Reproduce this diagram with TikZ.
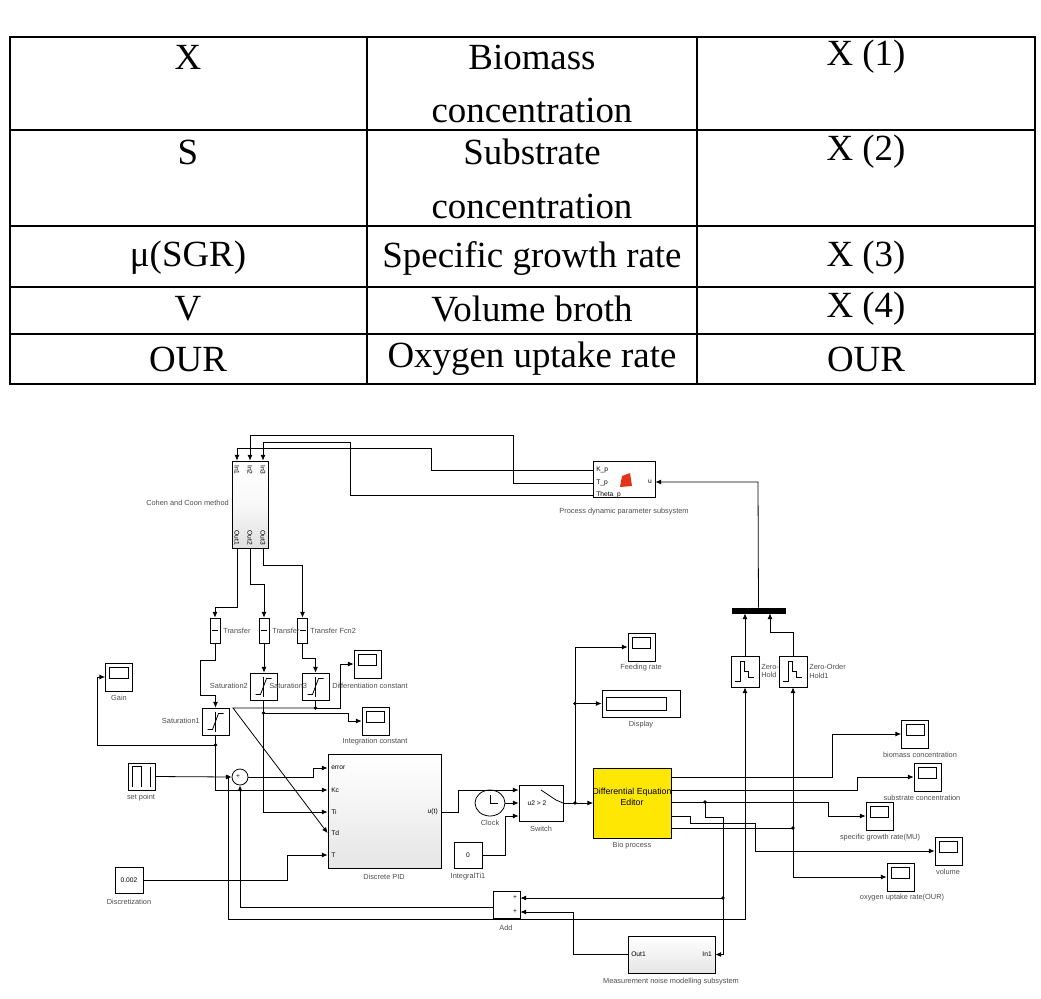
\documentclass[tikz,border=0pt]{standalone}
\usepackage{fontspec}
\setmainfont{Liberation Serif}
\newfontfamily\simfont{Liberation Sans}
\usetikzlibrary{arrows.meta,shapes.geometric}
\tikzset{
    cell/.style = {font=\fontsize{21}{25}\selectfont, inner sep=0pt},
    blk/.style 2 args = {draw, inner sep=0pt, minimum width=#1*0.02cm, minimum height=#2*0.02cm},
    scp/.style = {blk={27}{28}, path picture={\draw ([shift={(2.5pt,-2.5pt)}]path picture bounding box.north west) rectangle ([shift={(-2.5pt,7pt)}]path picture bounding box.south east);}},
    lbl/.style = {font=\simfont\fontsize{4.2}{5}\selectfont, inner sep=0.5pt, text=black!70},
    prt/.style = {font=\simfont\fontsize{3.8}{4.5}\selectfont, inner sep=0.5pt},
    sig/.style = {-{Latex[length=3.2pt,width=2.8pt]}},
    dot/.style = {circle, fill, inner sep=0pt, minimum size=2.2pt}
}
\begin{document}
\begin{tikzpicture}[x=0.02cm, y=-0.02cm, line width=0.45pt]
    \useasboundingbox (0,0) rectangle (1041,998);

    % table
    \draw[line width=1pt] (10,37) rectangle (1035,384);
    \foreach \y in {130,226,287,334}
        \draw[line width=1pt] (10,\y) -- (1035,\y);
    \foreach \x in {367,697}
        \draw[line width=1pt] (\x,37) -- (\x,384);
    \node[cell] (r1a) at (188,57) {X};
    \node[cell] (r1b) at (532,57) {Biomass};
    \node[cell] (r1c) at (532,110) {concentration};
    \node[cell] (r1d) at (866,57) {X (1)};
    \node[cell] (r2a) at (188,152) {S};
    \node[cell] (r2b) at (532,152) {Substrate};
    \node[cell] (r2c) at (532,206) {concentration};
    \node[cell] (r2d) at (866,152) {X (2)};
    \node[cell] (r3a) at (188,258) {μ(SGR)};
    \node[cell] (r3b) at (532,258) {Specific growth rate};
    \node[cell] (r3c) at (866,258) {X (3)};
    \node[cell] (r4a) at (188,309) {V};
    \node[cell] (r4b) at (532,309) {Volume broth};
    \node[cell] (r4c) at (866,309) {X (4)};
    \node[cell] (r5a) at (188,359) {OUR};
    \node[cell] (r5b) at (532,359) {Oxygen uptake rate};
    \node[cell] (r5c) at (866,359) {OUR};

    % blocks
    \node[blk={36}{87}, top color=white, bottom color=gray!25, middle color=gray!5] (coc) at (250,504.5) {};
    \node[lbl, anchor=east] at (230,503) {Cohen and Coon method};
    \foreach \x/\i in {237/1,250/2,263/3} {
        \node[prt, rotate=-90] at (\x,470) {In\i};
        \node[prt, rotate=-90] at (\x,538) {Out\i};
    }
    \node[blk={62}{36}] (pds) at (624,479) {};
    \node[prt, anchor=west] at (595,470) {K\_p};
    \node[prt, anchor=west] at (595,483) {T\_p};
    \node[prt, anchor=west] at (595,495) {Theta\_p};
    \node[prt, anchor=east] at (653,482) {u};
    \fill[red!60!brown] (622,476) -- (630,473) -- (632,486) -- (620,487) -- cycle;
    \node[lbl] at (624,512) {Process dynamic parameter subsystem};
    \node[blk={53}{5}, fill=black] (bus) at (758.5,610.5) {};

    \node[blk={28}{31}] (zoh) at (745,671.5) {};
    \node[blk={28}{31}] (zoh1) at (793,671.5) {};
    \foreach \n in {zoh,zoh1}
        \draw ([shift={(-10,10)}]\n.center) -- ++(5,0) -- ++(0,-20) -- ++(4,0) -- ++(0,10) -- ++(4,0) -- ++(0,6) -- ++(6,0);
    \node[lbl, anchor=west, align=left] at (760,671) {Zero-\\Hold};
    \node[lbl, anchor=west, align=left] at (808,671) {Zero-Order\\Hold1};

    \foreach \n/\x in {tf1/215,tf2/264,tf3/302.5} {
        \node[blk={10}{25}] (\n) at (\x,630.5) {};
        \draw ([shift={(-3,0)}]\n.center) -- ([shift={(3,0)}]\n.center);
    }
    \node[lbl, anchor=west] at (222,631) {Transfer};
    \node[lbl, anchor=west] at (271,631) {Transfer};
    \node[lbl, anchor=west] at (309,631) {Transfer Fcn2};

    \foreach \n/\x/\y in {sat2/263.5/686.5,sat3/315.5/686.5,sat1/215.5/721.5} {
        \node[blk={27}{27}] (\n) at (\x,\y) {};
        \draw ([shift={(-8,8)}]\n.center) -- ++(5,0) -- ++(6,-16) -- ++(5,0);
        \draw ([shift={(0,10)}]\n.center) -- ([shift={(0,-10)}]\n.center);
    }
    \node[lbl, anchor=east] at (249,686) {Saturation2};
    \node[lbl, anchor=west] at (268,686) {Saturation3};
    \node[lbl, anchor=west] at (331,686) {Differentiation constant};
    \node[lbl, anchor=east] at (201,721) {Saturation1};

    \node[scp] (gainsc) at (119,677) {};
    \node[lbl] at (119,698) {Gain};
    \node[scp] (diffsc) at (367.5,664) {};
    \node[scp] (intsc) at (375.5,721) {};
    \node[lbl] at (375,742) {Integration constant};

    \node[blk={113}{114}, top color=white, bottom color=gray!20] (pid) at (384.5,811.5) {};
    \foreach \t/\y in {error/768,Kc/790,Ti/812,Td/833,T/855}
        \node[prt, anchor=west] at (330,\y) {\t};
    \node[prt, anchor=east] at (439,812) {u(t)};
    \node[lbl] at (384,877) {Discrete PID};

    \node[blk={27}{27}] (setp) at (141.5,776.5) {};
    \draw ([shift={(-9,10)}]setp.center) -- ++(0,-20) -- ++(9,0) -- ++(0,20) ([shift={(9,-10)}]setp.center) -- ++(0,20);
    \node[lbl] at (141,798) {set point};
    \node[draw, circle, minimum size=16*0.02cm, inner sep=0pt] (sum) at (240,777) {};
    \node[prt] at (238,777) {+};
    \node[blk={28}{26}] (disc) at (129,880) {};
    \node[prt] at (129,880) {0.002};
    \node[lbl] at (129,902) {Discretization};

    \node[draw, ellipse, minimum width=30*0.02cm, minimum height=26*0.02cm, inner sep=0pt] (clock) at (490,803) {};
    \draw (clock.center) -- ++(0,-8) (clock.center) -- ++(8,0);
    \node[lbl] at (490,823) {Clock};
    \node[blk={28}{26}] (ti0) at (468,855) {};
    \node[prt] at (468,855) {0};
    \node[lbl] at (468,877) {IntegralTi1};
    \node[blk={44}{36}] (sw) at (541,803) {};
    \node[prt] at (537,803) {u2 > 2};
    \draw (541,790) -- (556,800) -- (563,803);
    \node[lbl] at (541,829) {Switch};

    \node[blk={78}{70}, fill=yellow!90!orange] (bio) at (632.5,803) {};
    \node[font=\simfont\fontsize{5}{6}\selectfont, align=center, inner sep=0pt] at (632,797) {Differential Equation\\Editor};
    \node[lbl] at (632,846) {Bio process};
    \node[scp] (feedsc) at (641.5,647) {};
    \node[lbl] at (641,668) {Feeding rate};
    \node[blk={78}{27}] (disp) at (641,703.5) {};
    \draw (606,697) rectangle (666,710);
    \node[lbl] at (641,725) {Display};

    \node[scp] (bmsc) at (915,734) {};
    \node[lbl] at (920,755) {biomass concentration};
    \node[scp] (subsc) at (927.5,777) {};
    \node[lbl] at (922,798) {substrate concentration};
    \node[scp] (sgrsc) at (879.5,816) {};
    \node[lbl] at (880,838) {specific growth rate(MU)};
    \node[scp] (volsc) at (948.5,851) {};
    \node[lbl] at (948,872) {volume};
    \node[scp] (oursc) at (900.5,877) {};
    \node[lbl] at (902,898) {oxygen uptake rate(OUR)};

    \node[blk={27}{27}] (add) at (506.5,905) {};
    \node[prt] at (515,898) {+};
    \node[prt] at (515,912) {+};
    \node[lbl] at (506,928) {Add};
    \node[blk={87}{37}, top color=white, bottom color=gray!20] (meas) at (671.5,954.5) {};
    \node[prt, anchor=west] at (630,954) {Out1};
    \node[prt, anchor=east] at (713,954) {In1};
    \node[lbl] at (671,982) {Measurement noise modelling subsystem};

    % connectors
    \draw[sig] (pds.west |- 0,470) -- (431,470) -- (431,448) -- (237,448) -- (coc.north -| 237,0);
    \draw[sig] (pds.west |- 0,483) -- (513,483) -- (513,435) -- (250,435) -- (coc.north);
    \draw[sig] (pds.west |- 0,495) -- (350,495) -- (350,442) -- (263,442) -- (coc.north -| 263,0);
    \draw[sig] (bus.north) -- (758,482) -- (pds.east |- 0,482);
    \draw[sig] (zoh.north) -- (bus.south -| zoh.north);
    \draw[sig] (zoh1.north) -- (793,632) -- (770,632) -- (bus.south -| 770,0);

    \draw[sig] (coc.south -| 237,0) -- (237,607) -- (215,607) -- (tf1.north);
    \draw[sig] (coc.south) -- (250,584) -- (264,584) -- (tf2.north);
    \draw[sig] (coc.south -| 263,0) -- (263,565) -- (302.5,565) -- (tf3.north);
    \draw[sig] (tf1.south) -- (215,660) -- (200,660) -- (200,695) -- (215.5,695) -- (sat1.north);
    \draw[sig] (tf2.south) -- (sat2.north -| tf2.south);
    \draw[sig] (tf3.south) -- (302.5,658) -- (315.5,658) -- (sat3.north);

    \draw[sig] (sat3.south) -- (315.5,708) -- (340,708) -- (340,664) -- (diffsc.west);
    \draw[sig] (315.5,708) -- (233,708) -- (pid.west |- 0,833);
    \draw[sig] (sat2.south) -- (263.5,713) -- (348,713) -- (348,721) -- (intsc.west);
    \draw[sig] (263.5,713) -- (263.5,812) -- (pid.west |- 0,812);
    \draw[sig] (sat1.south) -- (215.5,745) -- (215.5,790) -- (pid.west |- 0,790);
    \draw[sig] (215.5,745) -- (97,745) -- (97,677) -- (gainsc.west);
    \node[dot] (j1) at (315.5,708) {};
    \node[dot] (j2) at (263.5,713) {};
    \node[dot] (j3) at (215.5,745) {};

    \draw[sig] (setp.east) -- (sum.west);
    \draw[sig] (sum.east) -- (313,777) -- (313,768) -- (pid.west |- 0,768);
    \draw[sig] (add.west |- 0,907) -- (240,907) -- (sum.south);
    \draw[sig] (228,777) -- (228,919) -- (745,919) -- (zoh.south);
    \node[dot] (j4) at (228,777) {};
    \draw[sig] (disc.east) -- (287,880) -- (287,855) -- (pid.west |- 0,855);

    \draw[sig] (pid.east |- 0,812) -- (458,812) -- (458,790) -- (sw.west |- 0,790);
    \draw[sig] (clock.east) -- (sw.west);
    \draw[sig] (ti0.east) -- (505,855) -- (505,816) -- (sw.west |- 0,816);
    \draw[sig] (sw.east) -- (bio.west);
    \draw[sig] (575,803) -- (575,647) -- (feedsc.west);
    \draw[sig] (575,703.5) -- (disp.west);
    \node[dot] (j5) at (575,803) {};
    \node[dot] (j6) at (575,703.5) {};

    \draw[sig] (bio.east |- 0,777) -- (832,777) -- (832,734) -- (bmsc.west);
    \draw[sig] (bio.east |- 0,790) -- (857,790) -- (857,777) -- (subsc.west);
    \draw[sig] (bio.east |- 0,802) -- (828,802) -- (828,816) -- (sgrsc.west);
    \draw[sig] (bio.east |- 0,816) -- (690,816) -- (690,823) -- (755,823) -- (755,851) -- (volsc.west);
    \draw[sig] (bio.east |- 0,828) -- (793,828) -- (793,877) -- (oursc.west);
    \draw[sig] (793,828) -- (zoh1.south);
    \node[dot] (j7) at (793,828) {};
    \draw[sig] (705,802) -- (705,817) -- (723,817) -- (723,954.5) -- (meas.east);
    \draw[sig] (723,898) -- (add.east |- 0,898);
    \node[dot] (j8) at (705,802) {};
    \node[dot] (j9) at (723,898) {};
    \draw[sig] (meas.west) -- (573,954.5) -- (573,912) -- (add.east |- 0,912);
\end{tikzpicture}
\end{document}
